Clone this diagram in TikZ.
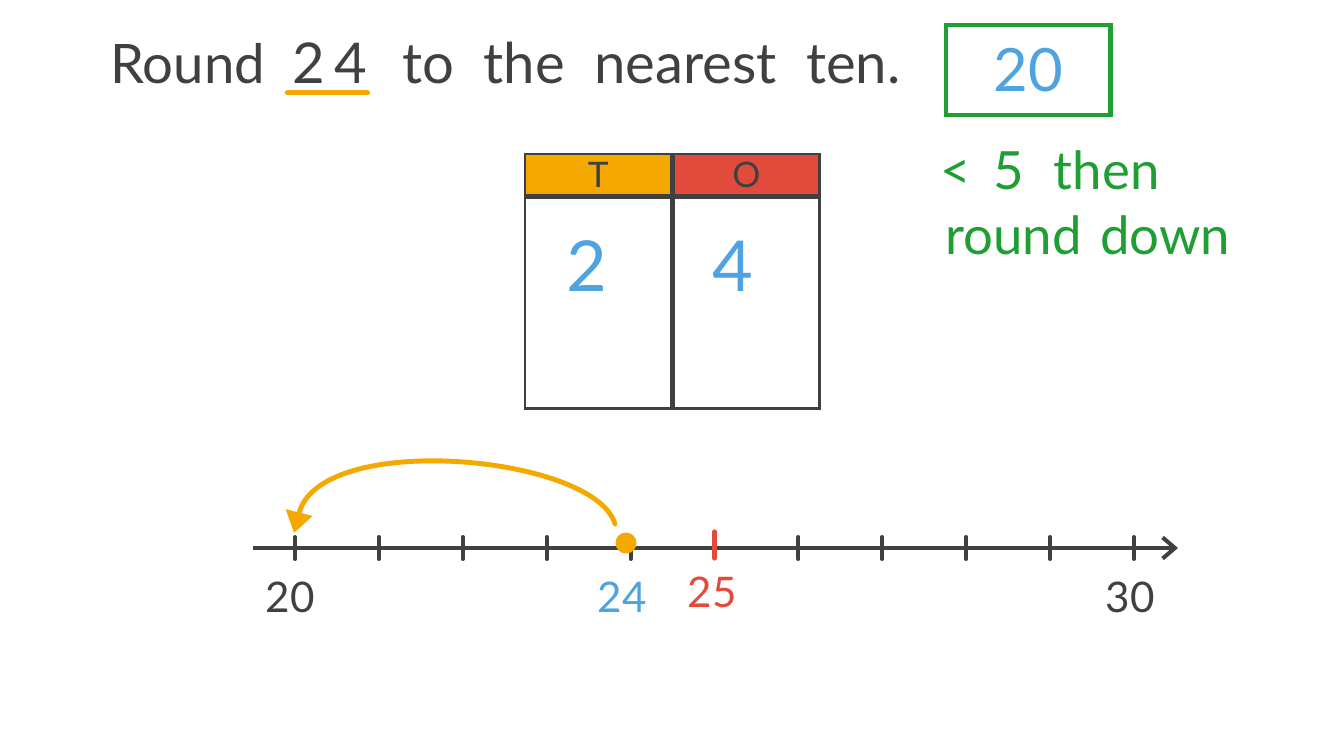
\documentclass[tikz,border=0pt]{standalone}
\usepackage{fontspec}
\setmainfont{Lato}
\usetikzlibrary{arrows.meta}
\definecolor{ink}{HTML}{404040}
\definecolor{hdrorange}{HTML}{F5A800}
\definecolor{hdrred}{HTML}{E24B3C}
\definecolor{digitblue}{HTML}{4FA3E0}
\definecolor{notegreen}{HTML}{1F9E34}
\tikzset{
  txt/.style={inner sep=0pt, text=ink},
  numtick/.style={ink, line width=2.3pt, line cap=round},
  cell/.style={draw=ink, line width=1.3pt, minimum width=2.92cm, inner sep=0pt},
}
\begin{document}
\begin{tikzpicture}[x=0.02cm, y=-0.02cm]
\useasboundingbox (0,0) rectangle (1344,756);
\fill[white] (0,0) rectangle (1344,756);
% title
\node[txt, anchor=base west, font=\fontsize{31}{38}\selectfont] (round) at (110,84) {Round};
\node[txt, anchor=base, font=\fontsize{32}{38}\selectfont] (num) at (330,84) {2\,4};
\node[txt, anchor=base west, font=\fontsize{32}{38}\selectfont] (rest) at (402,84) {to\hspace{0.3cm} the\hspace{0.3cm} nearest\hspace{0.3cm} ten.};
\draw[hdrorange, line width=2.8pt, line cap=round] ([yshift=-0.17cm, xshift=-0.1cm]num.south west) -- ([yshift=-0.17cm]num.south east);
\node[draw=notegreen, line width=2.3pt, minimum width=3.3cm, minimum height=1.8cm, text=digitblue, font=\fontsize{34}{40}\selectfont] (answer) at (1028,70) {20};
% place value table
\node[cell, fill=hdrorange, minimum height=0.82cm, anchor=north west, font=\fontsize{20}{22}\selectfont, text=ink] (thead) at (524,153) {T};
\node[cell, fill=hdrred, minimum height=0.82cm, anchor=north west, font=\fontsize{20}{22}\selectfont, text=ink] (ohead) at (thead.north east) {O};
\node[cell, minimum height=4.22cm, anchor=north] (tbody) at (thead.south) {};
\node[cell, minimum height=4.22cm, anchor=north] (obody) at (ohead.south) {};
\node[txt, text=digitblue, font=\fontsize{40}{46}\selectfont] (tens) at (587,266) {2};
\node[txt, text=digitblue, font=\fontsize{40}{46}\selectfont] (ones) at (733,266) {4};
% rule
\node[txt, text=notegreen, anchor=base west, font=\fontsize{30}{36}\selectfont] (rule) at (940,190) {<\hspace{0.45cm}5\hspace{0.6cm}then};
\node[txt, text=notegreen, anchor=base west, font=\fontsize{30}{36}\selectfont] (down) at (945,255) {round\hspace{0.1cm} down};
% number line
\coordinate (lstart) at (253,548);
\coordinate (lend) at (1178,548);
\draw[ink, line width=2.3pt, -{Straight Barb[length=7pt, width=12pt]}] (lstart) -- (lend);
\foreach \i in {0,...,10} {
  \coordinate (t\i) at ({295+83.9*\i},548);
}
\foreach \i in {0,1,2,3,4,6,7,8,9,10} {
  \draw[numtick] (t\i) ++(0,-11) -- ++(0,22);
}
\draw[hdrred, line width=3pt, line cap=round] (t5) ++(0,-16) -- ++(0,26);
\node[circle, fill=hdrorange, minimum size=0.42cm, inner sep=0pt] (dot) at (626,543) {};
\coordinate (arcstart) at (615,524);
\coordinate (arcend) at (294,533);
\draw[hdrorange, line width=2.8pt, line cap=round, -{Triangle[length=12pt, width=15pt]}] (arcstart) .. controls (595,455) and (320,430) .. (arcend);
\node[txt, font=\fontsize{24}{28}\selectfont] (lbl20) at (290,597) {20};
\node[txt, text=digitblue, font=\fontsize{24}{28}\selectfont] (lbl24) at (622,597) {24};
\node[txt, text=hdrred, font=\fontsize{24}{28}\selectfont] (lbl25) at (712,592) {25};
\node[txt, font=\fontsize{24}{28}\selectfont] (lbl30) at (1130,597) {30};
\end{tikzpicture}
\end{document}
